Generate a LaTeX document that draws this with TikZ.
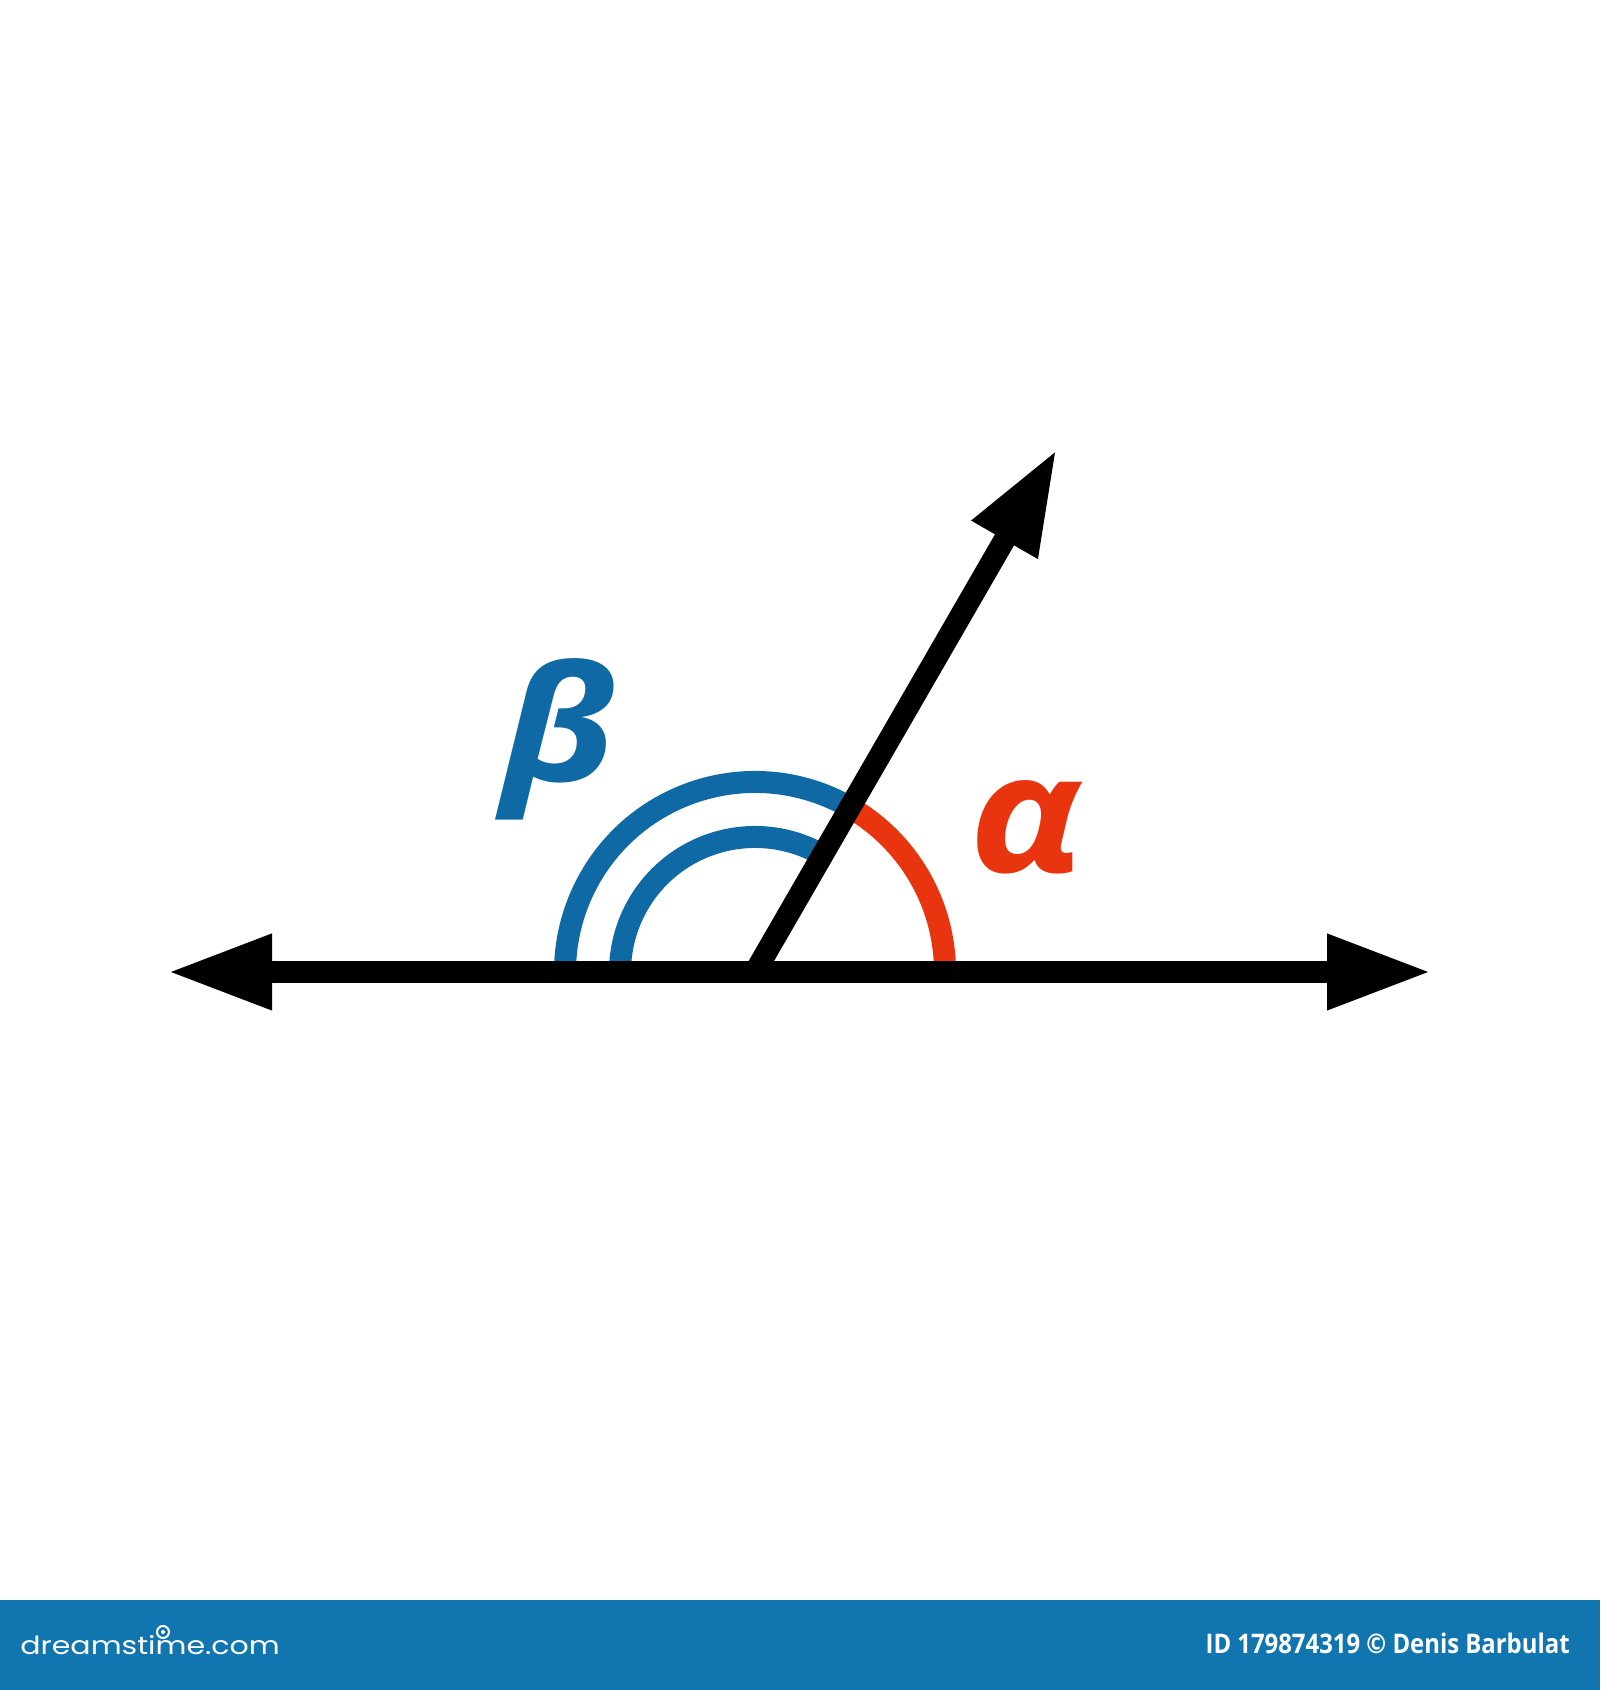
\documentclass[tikz,border=0pt]{standalone}
\usepackage{fontspec}
\usetikzlibrary{arrows.meta,calc}
\newfontfamily\greekfont{Open Sans}
\newfontfamily\barfont{Open Sans}
\newfontfamily\logofont{Poppins}
\definecolor{arcblue}{HTML}{0F69A5}
\definecolor{arcred}{HTML}{E8350F}
\definecolor{barblue}{HTML}{1176AF}
\begin{document}
\begin{tikzpicture}[x=0.5pt,y=0.5pt,
  blackline/.style={line width=11pt, draw=black},
  headboth/.style={{Triangle[length=52.5pt,width=35pt]}-{Triangle[length=52.5pt,width=35pt]}},
  headend/.style={-{Triangle[length=52.5pt,width=35pt]}},
  arcline/.style={line width=11pt},
  greeklabel/.style={inner sep=0pt, font=\greekfont\bfseries\itshape\fontsize{78pt}{78pt}\selectfont},
  bartext/.style={inner sep=0pt, text=white}]
% canvas
\fill[white] (0,0) rectangle (1600,1690);
\useasboundingbox (0,0) rectangle (1600,1690);
% key points
\coordinate (O) at (755,718);
\coordinate (L) at (167,718);
\coordinate (R) at (1432,718);
\coordinate (T) at ($(O)+(60:604)$);
% arcs
\draw[arcline, arcblue] ($(O)+(60:190)$) arc[start angle=60, end angle=180, radius=190];
\draw[arcline, arcblue] ($(O)+(60:135)$) arc[start angle=60, end angle=180, radius=135];
\draw[arcline, arcred] ($(O)+(0:190)$) arc[start angle=0, end angle=62, radius=190];
% lines
\draw[blackline, headboth] (L) -- (R);
\draw[blackline, headend] (O) -- (T);
% labels
\node[greeklabel, text=arcblue] (beta) at (560,951) {\scalebox{1.2}[1.03]{β}};
\node[greeklabel, text=arcred] (alpha) at (1026,863) {\scalebox{1.2}[1.06]{α}};
% bottom bar
\fill[barblue] (0,0) rectangle (1600,90);
\node[bartext, anchor=base east, font=\barfont\bfseries\fontsize{13.5pt}{13.5pt}\selectfont] (credit) at (1570,36) {\scalebox{0.885}[1]{ID 179874319 © Denis Barbulat}};
\node[bartext, anchor=base west, font=\logofont\fontsize{12.5pt}{12.5pt}\selectfont] (logo) at (20,35) {\scalebox{1.2}[1]{dreamstime.com}};
\draw[white, line width=1pt] (163,58) circle[radius=6];
\fill[white] (163,58) circle[radius=2];
\end{tikzpicture}
\end{document}
